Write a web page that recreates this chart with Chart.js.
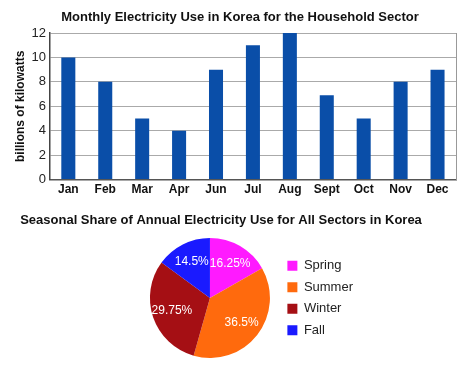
<!DOCTYPE html>
<html>
    <head>
        <meta charset="UTF-8"/>
        <title>Electricity Use in Korea</title>
        <script src="https://cdn.jsdelivr.net/npm/chart.js@4.4.1/dist/chart.umd.min.js"></script>
        <style>
            body{margin:0;background:#fff;}
            #bars{position:absolute;left:0;top:0;}
            #pie{position:absolute;left:0;top:200px;}
        </style>
    </head>
    <body>
        <canvas id="bars" width="474" height="200"></canvas>
        <canvas id="pie" width="474" height="165"></canvas>
        <script>
            const months=['Jan','Feb','Mar','Apr','Jun','Jul','Aug','Sept','Oct','Nov','Dec'];
            const usage=[10,8,5,4,9,11,12,6.9,5,8,9];
            const yTicks=[0,2,4,6,8,10,12];

            const seasons=['Spring','Summer','Winter','Fall'];
            const shares=[16.25,36.5,29.75,14.5];
            const seasonColors=['#ff1aff','#ff6a0d','#a50f14','#1a1aff'];

            Chart.defaults.font.family='"Liberation Sans", Arial, sans-serif';
            Chart.defaults.color='#222';

            // title drawn at a fixed spot so padding for the plot doesn't squeeze it
            const canvasTitle={
                id:'canvasTitle',
                afterDraw(chart,args,opts){
                    const ctx=chart.ctx;
                    ctx.save();
                    ctx.fillStyle='#111';
                    ctx.font='bold 13px "Liberation Sans", Arial, sans-serif';
                    ctx.textAlign='center';ctx.textBaseline='middle';
                    ctx.fillText(opts.text,opts.x,opts.y);
                    ctx.restore();
                }
            };

            new Chart(document.getElementById('bars').getContext('2d'),{
                type:'bar',
                data:{
                    labels:months,
                    datasets:[{data:usage,backgroundColor:'#0a4ea8',barPercentage:0.38,categoryPercentage:1}]
                },
                plugins:[canvasTitle],
                options:{
                    responsive:false,animation:false,
                    layout:{padding:{left:13,right:18,top:33,bottom:0}},
                    plugins:{
                        legend:{display:false},
                        tooltip:{enabled:false},
                        canvasTitle:{text:'Monthly Electricity Use in Korea for the Household Sector',x:240,y:17}
                    },
                    scales:{
                        x:{grid:{display:false,drawTicks:false},border:{color:'#555',width:1.5},
                            ticks:{font:{size:12,weight:'bold'},color:'#111',padding:3}},
                        y:{min:0,max:12,afterBuildTicks:ax=>{ax.ticks=yTicks.map(v=>({value:v}));},
                            grid:{color:'#aaa',drawTicks:false},border:{color:'#444',width:1.5},
                            ticks:{font:{size:13},color:'#222',padding:4},
                            title:{display:true,text:'billions of kilowatts',font:{size:12,weight:'bold'},color:'#111',padding:0}},
                        yr:{position:'right',min:0,max:12,ticks:{display:false},
                            grid:{drawOnChartArea:false,drawTicks:false},border:{color:'#999',width:1}}
                    }
                }
            });

            const pieLabels={
                id:'pieLabels',
                afterDatasetsDraw(chart){
                    const ctx=chart.ctx;
                    const meta=chart.getDatasetMeta(0);
                    ctx.save();
                    ctx.fillStyle='#fff';
                    ctx.font='12px "Liberation Sans", Arial, sans-serif';
                    ctx.textAlign='center';ctx.textBaseline='middle';
                    meta.data.forEach((arc,i)=>{
                        const p=arc.getProps(['x','y','startAngle','endAngle','outerRadius']);
                        const a=(p.startAngle+p.endAngle)/2;
                        const r=p.outerRadius*0.67;
                        ctx.fillText(shares[i]+'%',p.x+Math.cos(a)*r,p.y+Math.sin(a)*r);
                    });
                    ctx.restore();
                }
            };

            new Chart(document.getElementById('pie').getContext('2d'),{
                type:'pie',
                data:{
                    labels:seasons,
                    datasets:[{data:shares,backgroundColor:seasonColors,borderWidth:0}]
                },
                plugins:[pieLabels,canvasTitle],
                options:{
                    responsive:false,animation:false,
                    layout:{padding:{left:141,right:111,top:38,bottom:7}},
                    plugins:{
                        tooltip:{enabled:false},
                        canvasTitle:{text:'Seasonal Share of Annual Electricity Use for All Sectors in Korea',x:221,y:20},
                        legend:{position:'right',align:'center',
                            labels:{boxWidth:10,boxHeight:10,padding:8.5,font:{size:13},color:'#222'}}
                    }
                }
            });
        </script>
    </body>
</html>
